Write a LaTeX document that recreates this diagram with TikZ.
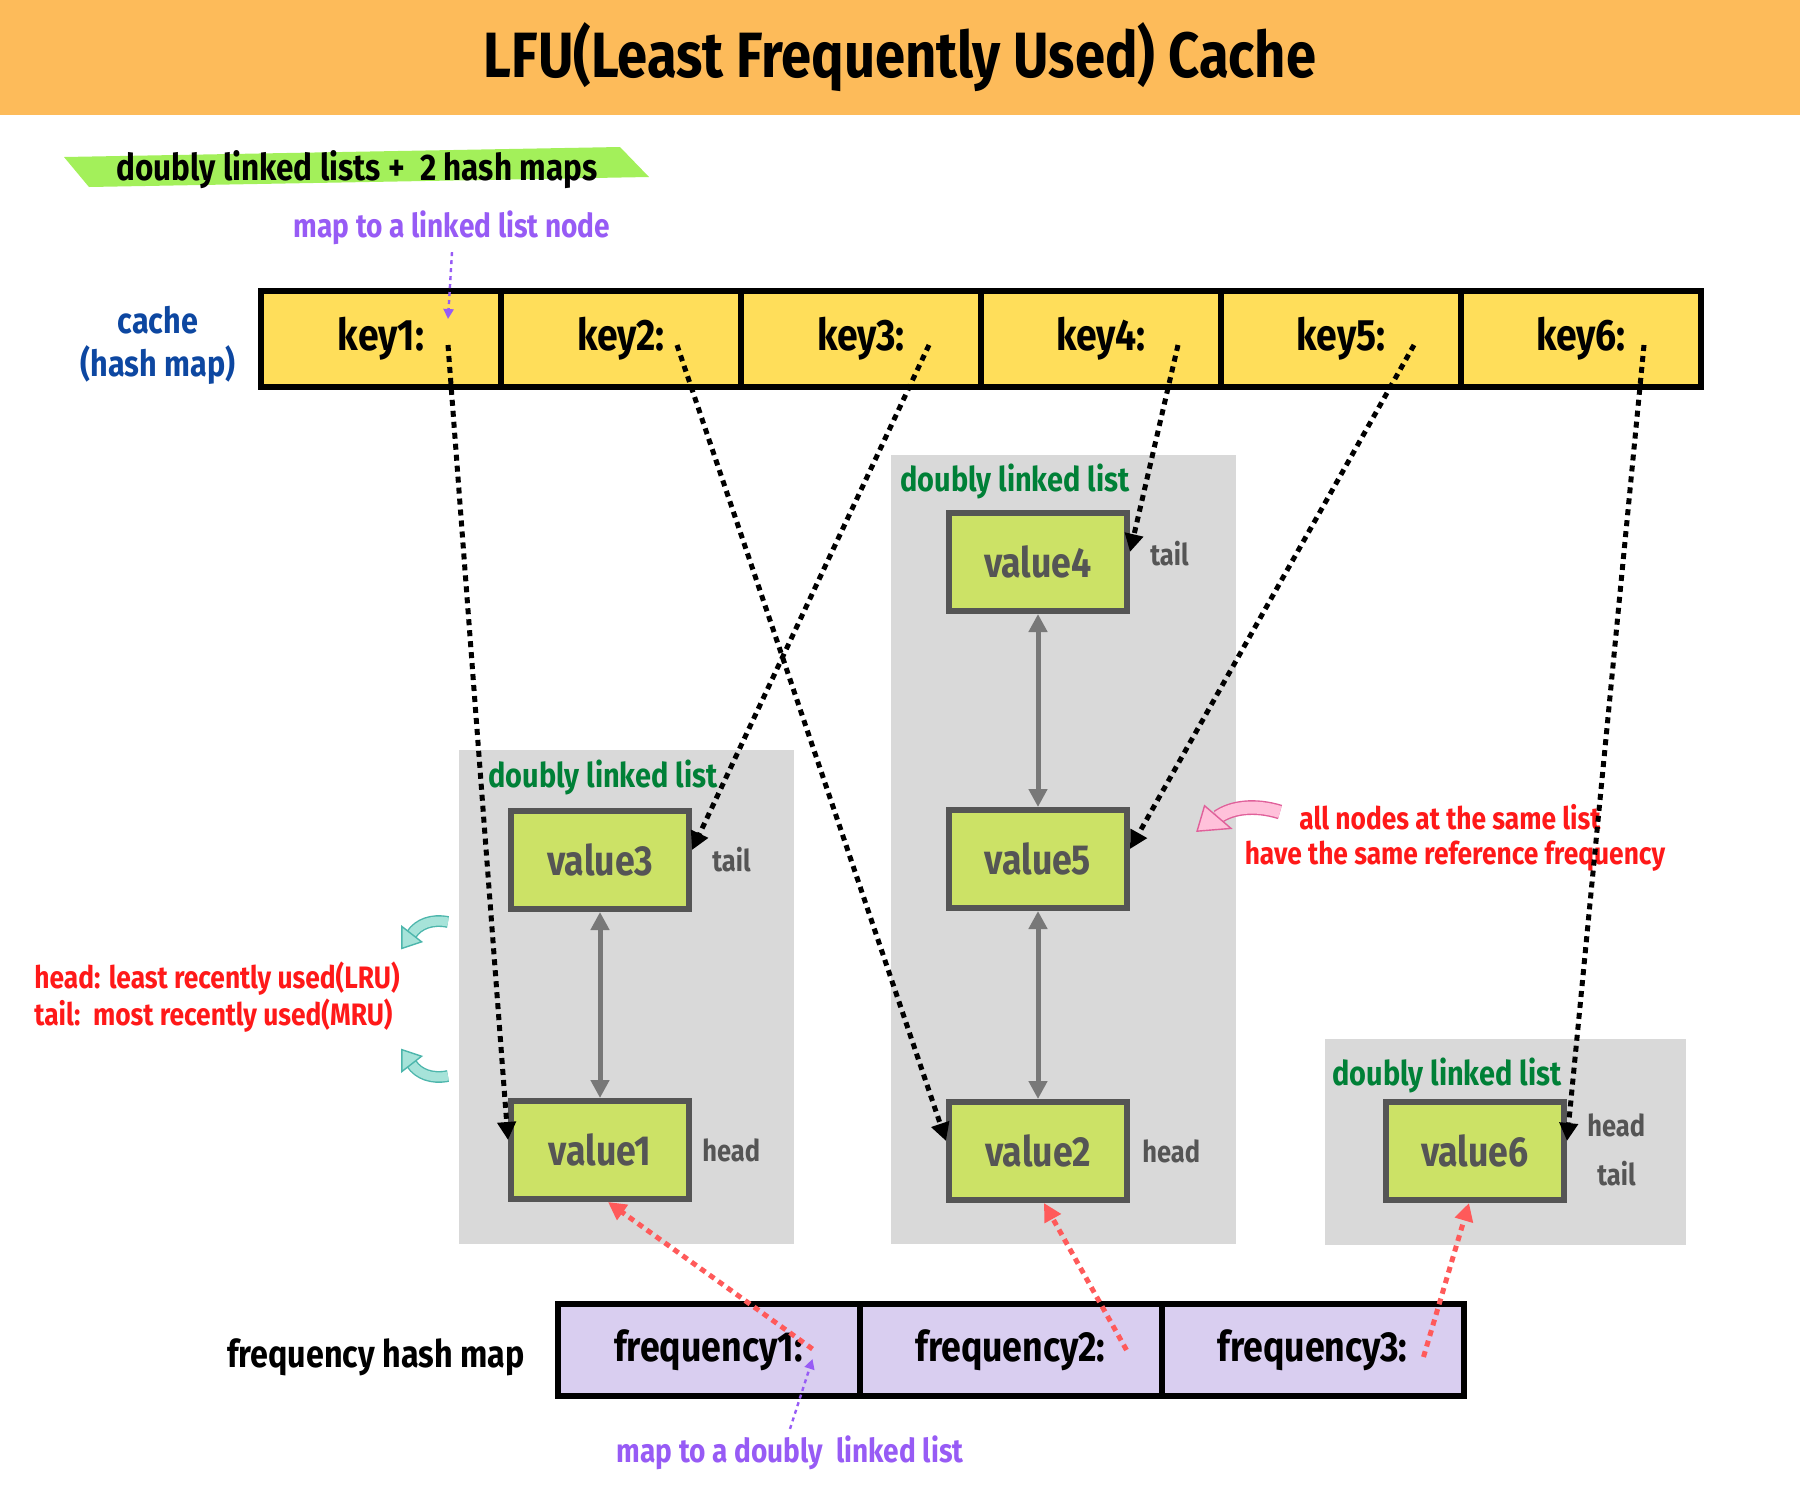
\documentclass[tikz,border=0pt]{standalone}
\usepackage{fontspec}
\setmainfont{Fira Sans}[FakeStretch=0.85]
\usetikzlibrary{arrows.meta,matrix,positioning,calc}
\definecolor{bannero}{RGB}{253,187,90}
\definecolor{markg}{RGB}{163,240,90}
\definecolor{notep}{RGB}{151,91,245}
\definecolor{keyy}{RGB}{255,222,90}
\definecolor{cacheb}{RGB}{13,71,161}
\definecolor{panelg}{RGB}{217,217,217}
\definecolor{valg}{RGB}{204,226,102}
\definecolor{valb}{RGB}{85,85,85}
\definecolor{linkg}{RGB}{120,120,120}
\definecolor{dllg}{RGB}{0,128,55}
\definecolor{noter}{RGB}{255,25,25}
\definecolor{freqr}{RGB}{255,90,90}
\definecolor{freql}{RGB}{217,206,240}
\definecolor{teall}{RGB}{166,227,217}
\definecolor{teald}{RGB}{77,182,172}
\definecolor{pinkl}{RGB}{255,193,218}
\definecolor{pinkd}{RGB}{224,96,154}
\newcommand\Fs[1]{\fontsize{#1}{1.2\dimexpr#1pt\relax}\selectfont\bfseries}
\tikzset{>={Triangle[length=9pt,width=9pt]},
          keytable/.style={
            matrix of nodes,
            row sep=-\pgflinewidth,
            column sep=-\pgflinewidth,
            line width=3pt,
            nodes={rectangle,draw=black,line width=3pt,fill=keyy,
                   minimum width=120pt,minimum height=48pt,font=\Fs{22}},
            anchor=center
          },
          freqtable/.style={keytable,
            nodes={fill=freql,minimum width=151pt,minimum height=46pt,
                   font=\Fs{21}}
          },
          valbox/.style={rectangle,draw=valb,line width=3pt,fill=valg,
            minimum width=89pt,minimum height=49pt,text=valb,font=\Fs{21}},
          panel/.style={rectangle,fill=panelg,inner sep=0pt},
          dll/.style={text=dllg,font=\Fs{17}},
          tagtxt/.style={text=valb,inner sep=1pt,font=\Fs{15}},
          rednote/.style={text=noter,font=\Fs{15.5}},
          purpnote/.style={text=notep,font=\Fs{16.5}},
          dlink/.style={<->,draw=linkg,line width=2.5pt},
          keyarrow/.style={->,draw=black,line width=2.5pt,
            dash pattern=on 3pt off 2.5pt},
          freqarrow/.style={->,draw=freqr,line width=2.5pt,
            dash pattern=on 3pt off 2.5pt},
          mapnote/.style={-{Triangle[length=5pt,width=5pt]},draw=notep,
            line width=1.2pt,dash pattern=on 2pt off 2pt}
        }
\newcommand\BentArrow[3]{%
          \begin{scope}[#1]
            \draw[draw=#2,double=#3,line width=0.7pt]
              (0,0) .. controls (-15,-3) and (-27,2) .. (-33,11);
            \filldraw[draw=#2,fill=#3,line width=0.7pt]
              (-24,18) -- (-42,24) -- (-42,4) -- cycle;
          \end{scope}
        }
\begin{document}
\begin{tikzpicture}[x=0.5pt,y=-0.5pt]
  \useasboundingbox (0,0) rectangle (1800,1500);
  \fill[bannero] (0,0) rectangle (1800,115);
  \node[font=\Fs{32}] (title) at (900,57) {LFU(Least Frequently Used) Cache};

  % header notes
  \fill[markg] (64,157) -- (620,147) -- (649,177) -- (89,187) -- cycle;
  \node[font=\Fs{18.5}] (sub) at (357,170) {doubly linked lists + \ 2 hash maps};
  \node[purpnote] (maplbl) at (452,228) {map to a linked list node};

  % cache hash map
  \matrix[keytable] (cache) at (981,339) {
    key1: & key2: & key3: & key4: & key5: & key6: \\ };
  \node[text=cacheb,font=\Fs{18},align=center] (cachelbl) at (158,345)
    {cache\\(hash map)};

  % the lists
  \node[panel,minimum width=167.5pt,minimum height=247pt] (listA) at (626.5,997) {};
  \node[panel,minimum width=172.5pt,minimum height=394.5pt] (listB) at (1063.5,849.5) {};
  \node[panel,minimum width=180.5pt,minimum height=103pt] (listC) at (1505.5,1142) {};
  \node[dll] (dllA) at (603,777) {doubly linked list};
  \node[dll] (dllB) at (1015,481) {doubly linked list};
  \node[dll] (dllC) at (1447,1075) {doubly linked list};

  \node[valbox] (v3) at (600,860) {value3};
  \node[valbox] (v1) at (600,1150) {value1};
  \node[valbox] (v4) at (1038,562) {value4};
  \node[valbox] (v5) at (1038,859) {value5};
  \node[valbox] (v2) at (1038,1151) {value2};
  \node[valbox] (v6) at (1475,1151) {value6};

  \node[tagtxt,right=9pt of v3] (tailA) {tail};
  \node[tagtxt,right=4pt of v1] (headA) {head};
  \node[tagtxt,right=9pt of v4,yshift=4pt] (tailB) {tail};
  \node[tagtxt,right=5pt of v2] (headB) {head};
  \node[tagtxt,right=9pt of v6,yshift=13pt] (headC) {head};
  \node[tagtxt,right=14pt of v6,yshift=-11.5pt] (tailC) {tail};

  \draw[dlink] (v3.south) -- (v1.north);
  \draw[dlink] (v4.south) -- (v5.north);
  \draw[dlink] (v5.south) -- (v2.north);

  % side notes
  \node[rednote,align=left,anchor=west,inner sep=0pt] (lru) at (34,997)
    {head: least recently used(LRU)\\tail:\ \ most recently used(MRU)};
  \BentArrow{shift={(448,922)},scale=1.1,double distance=4.5pt}{teald}{teall}
  \BentArrow{shift={(448,1076)},xscale=1.1,yscale=-1.1,double distance=4.5pt}{teald}{teall}
  \node[rednote] (samelist) at (1450,817) {all nodes at the same list};
  \node[rednote] (samefreq) at (1455,856) {have the same reference frequency};
  \BentArrow{shift={(1280,812)},xscale=1.8,yscale=1.3,rotate=-12,double distance=6pt}{pinkd}{pinkl}

  % frequency hash map
  \matrix[freqtable] (freq) at (1010.5,1350) {
    frequency1: & frequency2: & frequency3: \\ };
  \node[font=\Fs{19}] (freqlbl) at (376,1357) {frequency hash map};
  \node[purpnote] (dllmap) at (790,1453) {map to a doubly\ \ linked list};

  \foreach \i/\dx/\tgt in {1/33.5/v1.west,2/28/v2.west,3/34/v3.east,
                           4/38.5/v4.east,5/36.5/v5.east,6/31.5/v6.east}{
    \coordinate (k\i) at ([xshift=\dx pt,yshift=-3pt]cache-1-\i.center);
    \draw[keyarrow] (k\i) -- ([yshift=5pt]\tgt);
  }
  \foreach \j/\dx/\dy/\tgt/\tx in {1/52/0.5/v1/4,2/58/0/v2/3,3/55.5/-3.5/v6/-3}{
    \coordinate (f\j) at ([xshift=\dx pt,yshift=\dy pt]freq-1-\j.center);
    \draw[freqarrow] (f\j) -- ([xshift=\tx pt]\tgt.south);
  }
  \draw[mapnote] (maplbl.south) -- ([yshift=13pt]k1);
  \draw[mapnote] (dllmap.north) -- ([yshift=-5pt]f1);
\end{tikzpicture}
\end{document}
